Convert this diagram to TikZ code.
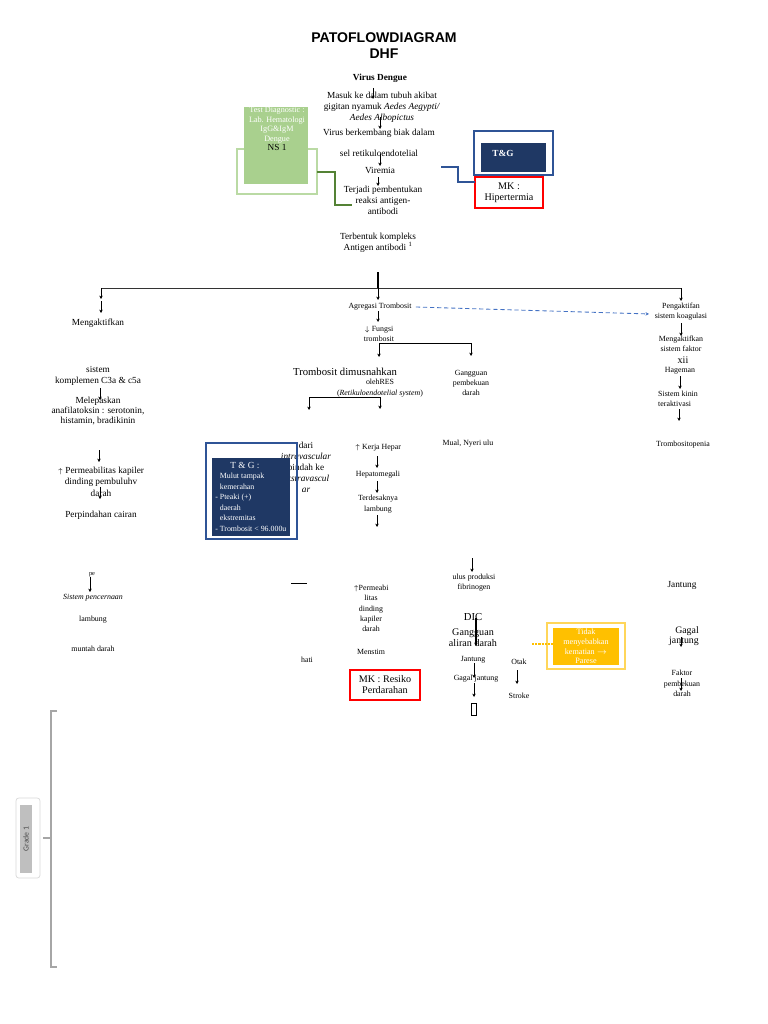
\documentclass[tikz,border=0pt]{standalone}
\usepackage{fontspec}
\setmainfont{Liberation Serif}
\newfontfamily\titlefont{Liberation Sans}
\newfontfamily\gradefont{Carlito}
\usepackage{tikz}
\usetikzlibrary{arrows.meta, positioning, calc}

\definecolor{navy}{RGB}{31,56,100}
\definecolor{boxblue}{RGB}{47,84,150}
\definecolor{leafgreen}{RGB}{169,208,142}
\definecolor{linegreen}{RGB}{84,130,53}
\definecolor{amber}{RGB}{255,192,0}
\definecolor{lightamber}{RGB}{255,214,90}
\definecolor{dashblue}{RGB}{68,114,196}

\begin{document}
\begin{tikzpicture}[x=0.025cm, y=-0.025cm,
  txt/.style={align=center, inner sep=0pt, font=\fontsize{6.6}{7.8}\selectfont},
  sm/.style={align=center, inner sep=0pt, font=\fontsize{5.6}{7.3}\selectfont},
  arr/.style={-{Stealth[length=2.4pt,width=2.4pt]}, line width=0.4pt},
  mk/.style={draw=red, line width=1.1pt, align=center, inner sep=0pt, font=\fontsize{7.2}{7.8}\selectfont}]
  \useasboundingbox (0,0) rectangle (768,1024);
  \fill[white] (0,0) rectangle (768,1024);

  % judul dan alur atas
  \node (title) [align=center, inner sep=0pt, font=\titlefont\bfseries\fontsize{10}{11.3}\selectfont] at (384,46) {PATOFLOWDIAGRAM\\DHF};
  \node (virus) [txt, font=\bfseries\fontsize{6.6}{7.8}\selectfont] at (380,78) {Virus Dengue};
  \node (masuk) [txt] at (382,107) {Masuk ke dalam tubuh akibat\\gigitan nyamuk \textit{Aedes Aegypti/}\\\textit{Aedes Albopictus}};
  \node (biak) [txt] at (379,133) {Virus berkembang biak dalam};
  \node (sel) [txt] at (379,153) {sel retikuloendotelial};
  \node (viremia) [txt] at (380,170) {Viremia};
  \node (reaksi) [txt] at (383,200) {Terjadi pembentukan\\reaksi antigen-\\antibodi};
  \node (kompleks) [txt] at (378,243) {Terbentuk kompleks\\Antigen antibodi \textsuperscript{1}};

  % tes diagnostik
  \draw[leafgreen!80, line width=0.8pt] (237,149) rectangle (317,194);
  \node (diag) [fill=leafgreen, minimum width=1.6cm, minimum height=1.925cm, inner sep=0pt] at (276,145.5) {};
  \node (diagtxt) [sm, text=white, font=\fontsize{5.8}{6.7}\selectfont] at (277,129) {Test Diagnostic :\\Lab. Hematologi\\IgG\&IgM\\Dengue\\\textcolor{black}{\fontsize{6.6}{6.7}\selectfont NS 1}};
  \coordinate (diagout) at (317,172);
  \draw[linegreen, line width=1pt] (diagout) -- ++(18,0) -- ++(0,33) -- ++(17,0);

  % T&G atas
  \draw[boxblue, line width=0.8pt] (474,131) rectangle (553,175);
  \node (tgtop) [fill=navy, minimum width=1.625cm, minimum height=0.725cm, inner sep=0pt] at (513.5,157.5) {};
  \node (tgtoptxt) [txt, text=white, font=\bfseries\fontsize{6.6}{7}\selectfont] at (503,153) {T\&G};
  \node (mkhyper) [mk, minimum width=1.7cm, minimum height=0.775cm] at (509,192.5) {MK :\\Hipertermia};
  \coordinate (hypin) at (441,167);
  \draw[boxblue, line width=1pt] (hypin) -- ++(17,0) -- ++(0,15) -- ++(17,0);

  % percabangan
  \coordinate (trunk) at (378,272);
  \draw[line width=1pt] (trunk) -- ++(0,16);
  \draw[line width=0.6pt, black!80] (101,288) -- (681,288);
  \draw[line width=0.6pt] (379,343) -- (471,343);
  \draw[line width=0.6pt] (309,397) -- (380,397);

  % kolom kiri
  \node (aktif) [txt] at (98,323) {Mengaktifkan};
  \node (komplemen) [txt] at (98,375.5) {sistem\\komplemen C3a \& c5a};
  \node (lepas) [txt, font=\fontsize{6.6}{5.2}\selectfont] at (98,411) {Melepaskan\\anafilatoksin : serotonin,\\histamin, bradikinin};
  \node (permeA) [txt, font=\fontsize{6.6}{8.1}\selectfont] at (101,481.5) {{\fontsize{4}{4}\selectfont$\uparrow$} Permeabilitas kapiler\\dinding pembuluhv\\darah};
  \node (cairan) [txt] at (101,515) {Perpindahan cairan};
  \node (pe) [sm, font=\fontsize{4.5}{5}\selectfont] at (92,575) {pe};
  \node (cerna) [sm, font=\itshape\fontsize{5.6}{6}\selectfont] at (93,598) {Sistem pencernaan};
  \node (lambungA) [sm] at (93,620) {lambung};
  \node (muntah) [sm] at (93,649) {muntah darah};

  % kolom tengah
  \node (agregasi) [sm] at (380,307) {Agregasi Trombosit};
  \node (fungsi) [sm, font=\fontsize{5.6}{7.1}\selectfont] at (379,334) {{\fontsize{4}{4}\selectfont$\downarrow$} Fungsi\\trombosit};
  \node (musnah) [txt, font=\fontsize{7.6}{8}\selectfont] at (345,372) {Trombosit dimusnahkan};
  \node (res) [sm, font=\fontsize{5.6}{7.8}\selectfont] at (380,388.5) {olehRES\\(\textit{Retikuloendotelial system})};
  \node (bekuA) [sm, font=\fontsize{5.6}{7.1}\selectfont] at (471,383) {Gangguan\\pembekuan\\darah};
  \node (mual) [sm] at (468,444) {Mual, Nyeri ulu};
  \node (pindah) [txt] at (306,467.5) {dari\\\textit{intravascular}\\pindah ke\\\textit{ekstravascul}\\\textit{ar}};

  % T&G tengah
  \draw[boxblue, line width=0.8pt] (206,443) rectangle (297,539);
  \node (tgmid) [fill=navy, minimum width=1.95cm, minimum height=1.95cm, inner sep=0pt] at (251,497) {};
  \node (tgmidhead) [txt, text=white] at (245,465) {T \& G :};
  \node (tgmidlist) [sm, text=white, align=left, anchor=north west, font=\fontsize{5.6}{7.5}\selectfont] at (215,473) {\phantom{- }Mulut tampak\\\phantom{- }kemerahan\\- Pteaki (+)\\\phantom{- }daerah\\\phantom{- }ekstremitas\\- Trombosit < 96.000u};

  \node (hepar) [sm] at (378,448) {{\fontsize{4}{4}\selectfont$\uparrow$} Kerja Hepar};
  \node (hepato) [sm] at (378,475) {Hepatomegali};
  \node (desak) [sm] at (378,504) {Terdesaknya\\lambung};
  \draw[line width=0.7pt] (291,583) -- (307,583);
  \node (permeB) [sm, font=\fontsize{5.6}{7.3}\selectfont] at (371,608.5) {{\fontsize{4}{4}\selectfont$\uparrow$}Permeabi\\litas\\dinding\\kapiler\\darah};
  \node (stim) [sm] at (371,652) {Menstim};
  \node (hati) [sm] at (307,660) {hati};
  \node (mkdarah) [mk, minimum width=1.75cm, minimum height=0.75cm] at (385,685) {MK : Resiko\\Perdarahan};

  \node (fibrin) [sm, font=\fontsize{5.6}{7.1}\selectfont] at (474,583) {ulus produksi\\fibrinogen};
  \node (dic) [txt, font=\fontsize{7.6}{8}\selectfont] at (473,617) {DIC};
  \node (aliran) [txt, font=\fontsize{7.2}{6.4}\selectfont] at (473,637.5) {Gangguan\\aliran darah};
  \node (jantungA) [sm] at (473,660) {Jantung};
  \node (gagalA) [sm] at (476,679) {Gagal jantung};
  \node (tofu) [draw, line width=0.5pt, minimum width=0.14cm, minimum height=0.3cm, inner sep=0pt] at (474,709) {};
  \node (otak) [sm] at (519,662) {Otak};
  \node (stroke) [sm] at (519,696) {Stroke};

  % parese
  \draw[lightamber, line width=1pt] (547,623) rectangle (625,669);
  \node (parese) [fill=amber, text=white, align=center, inner sep=0pt, minimum width=1.65cm, minimum height=0.925cm, font=\fontsize{5.8}{6.9}\selectfont] at (586,646.5) {Tidak\\menyebabkan\\kematian $\rightarrow$\\Parese};
  \draw[amber, line width=1.3pt, dash pattern=on 1.5pt off 0.8pt] (532,644) -- (parese.west |- 0,644);

  % kolom kanan
  \node (koag) [sm, font=\fontsize{5.6}{7.1}\selectfont] at (681,312) {Pengaktifan\\sistem koagulasi};
  \node (faktor) [sm, font=\fontsize{5.6}{7.1}\selectfont] at (681,344) {Mengaktifkan\\sistem faktor};
  \node (xii) [txt, font=\fontsize{7.2}{8}\selectfont] at (683,360) {xii};
  \node (hageman) [sm] at (680,371) {Hageman};
  \node (kinin) [sm, align=left, font=\fontsize{5.6}{7.1}\selectfont] at (678,399) {Sistem kinin\\teraktivasi};
  \node (trombopenia) [sm] at (683,445) {Trombositopenia};
  \node (jantungB) [txt] at (682,585) {Jantung};
  \node (gagalB) [txt, align=right, font=\fontsize{7}{5.7}\selectfont] at (684,636) {Gagal\\jantung};
  \node (faktorB) [sm, font=\fontsize{5.6}{7.4}\selectfont] at (682,683.5) {Faktor\\pembekuan\\darah};

  \draw[arr, dashblue, line width=0.6pt, densely dashed] ([xshift=3pt]agregasi.east) -- ([xshift=-4pt,yshift=-1.4pt]koag.west);

  % panah kecil
  \foreach \x/\a/\b in {373/88/99, 380/117/129, 380/154/166, 378/177/186,
      101/288/299, 101/301/313, 378/288/300, 681/288/301, 378/311/322,
      379/343/357, 471/343/356, 309/397/410, 380/397/409,
      681/323/336, 680/376/389, 679/409/421,
      100/388/400, 99/450/462, 100/487/499, 90/577/592,
      377/456/468, 377/481/493, 377/515/527,
      472/558/572, 474/663/678, 474/683/697, 517/670/684,
      681/637/647, 681/678/691}
    \draw[arr] (\x,\a) -- (\x,\b);
  \draw[arr, line width=0.9pt] (476,618) -- (476,646);

  % grade
  \draw[gray!70, line width=0.8pt] (57,711) -- (51,711) -- (51,967) -- (57,967);
  \draw[gray!70, line width=0.8pt] (43,838) -- (51,838);
  \draw[gray!30, rounded corners=2pt, line width=0.5pt] (16,798) rectangle (40,878);
  \node (grade) [fill=gray!50, rotate=90, minimum width=1.7cm, minimum height=0.3cm, inner sep=0pt, text=black!70, font=\gradefont\fontsize{5.5}{6}\selectfont] at (26,839) {Grade 1};
\end{tikzpicture}
\end{document}
